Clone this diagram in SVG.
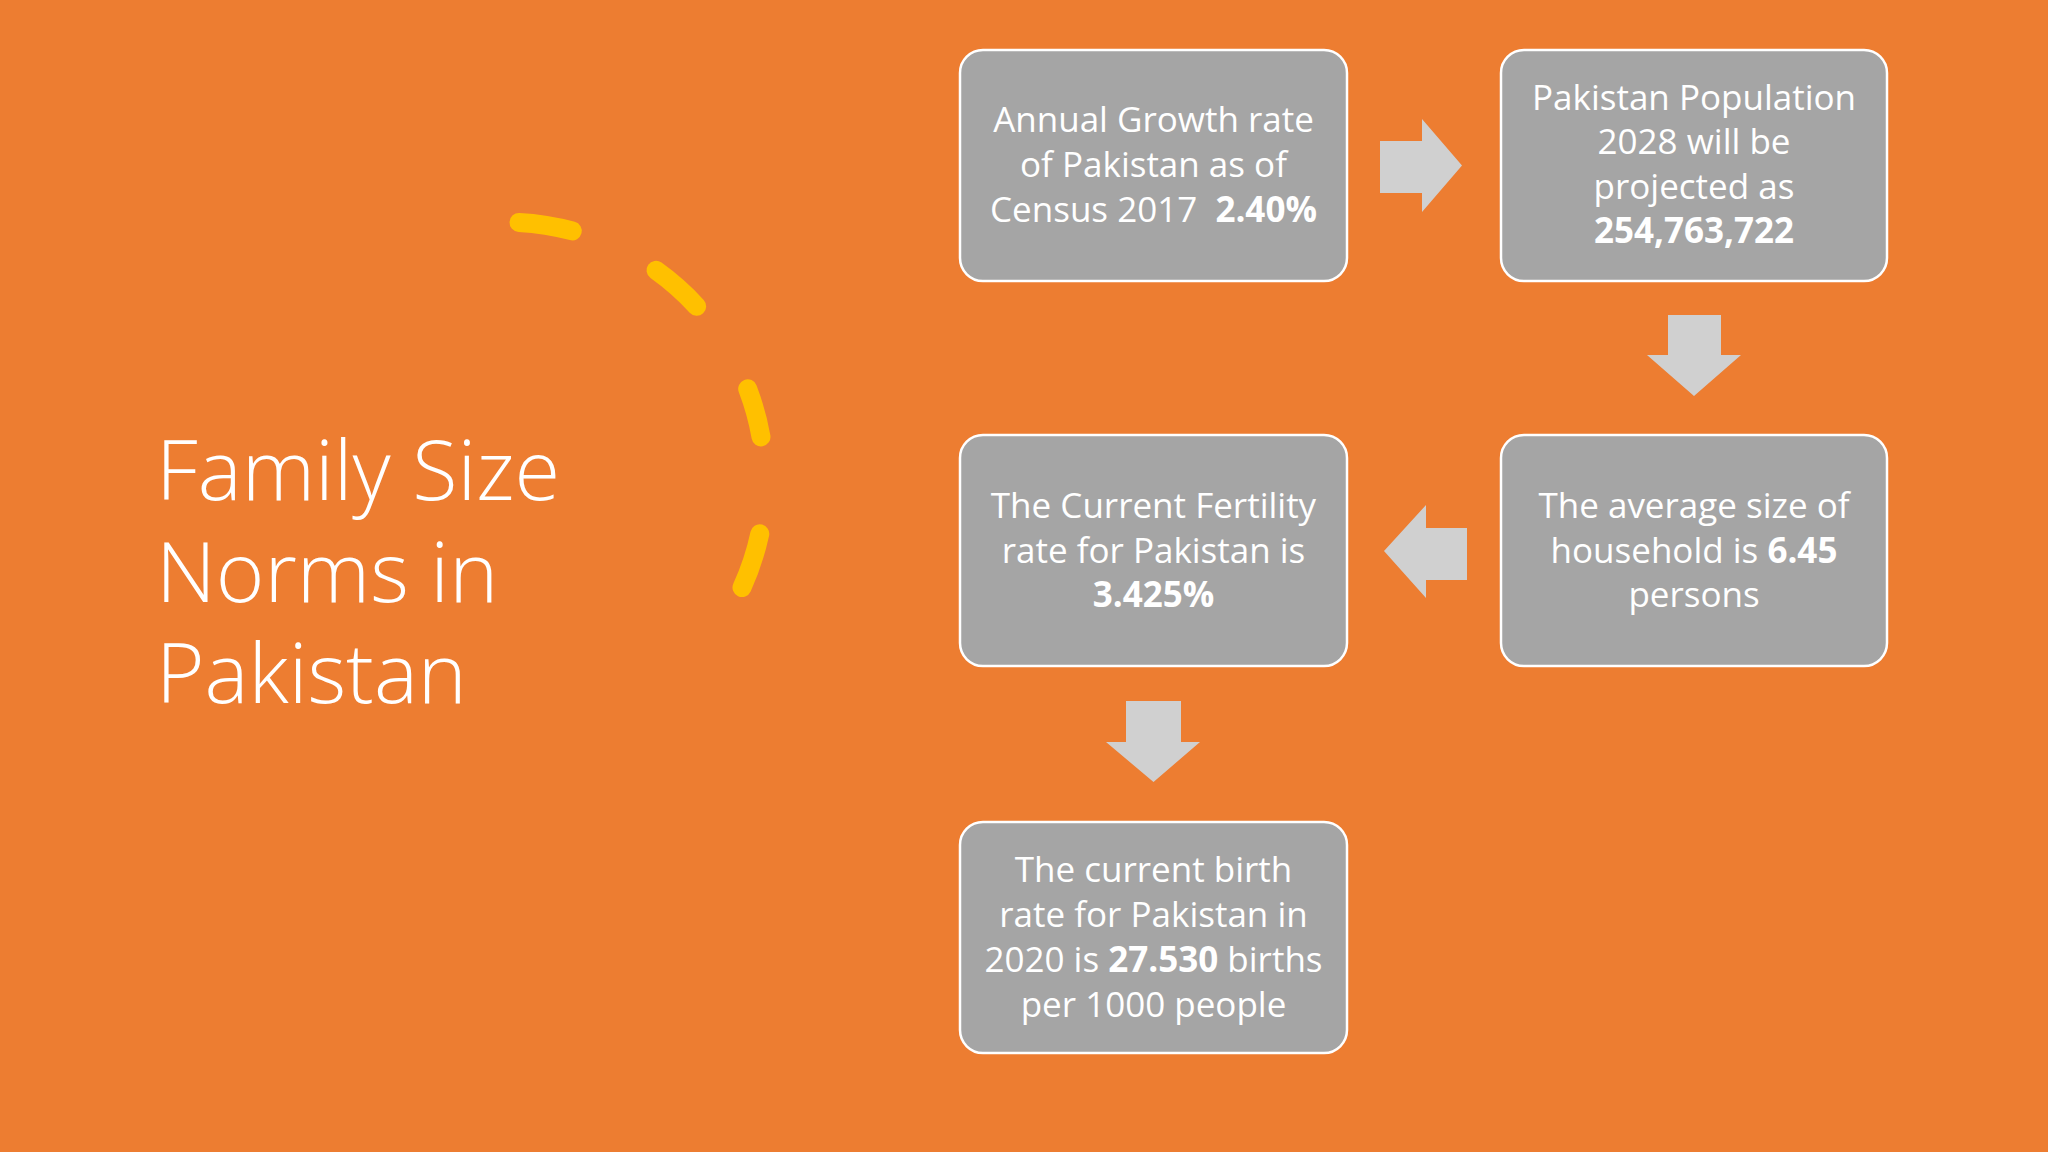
<svg xmlns="http://www.w3.org/2000/svg" width="2048" height="1152" viewBox="0 0 2048 1152">
  <style>
    .box { fill: #A5A5A5; stroke: #FFFFFF; stroke-width: 2.5; }
    .txt { font-family: "Open Sans", "Liberation Sans", sans-serif; font-size: 35px; fill: #FFFFFF; text-anchor: middle; white-space: pre; }
    .b { font-weight: bold; }
    .title { font-family: "Open Sans", "Liberation Sans", sans-serif; font-weight: 300; font-size: 83px; fill: #FFFFFF; }
    .arrow { fill: #D0D0D0; }
    .dash { fill: none; stroke: #FFC000; stroke-width: 19; stroke-linecap: round; }
  </style>
  <rect x="0" y="0" width="2048" height="1152" fill="#ED7D31"/>

  <g id="title">
    <text class="title" x="156" y="500">Family Size</text>
    <text class="title" x="156" y="602">Norms in</text>
    <text class="title" x="156" y="703">Pakistan</text>
  </g>

  <g id="decoration">
    <path class="dash" d="M 519.0 222.4 A 260 260 0 0 1 572.3 230.9"/>
    <path class="dash" d="M 656.0 270.3 A 260 260 0 0 1 696.7 306.3"/>
    <path class="dash" d="M 747.7 388.8 A 260 260 0 0 1 761.0 436.9"/>
    <path class="dash" d="M 759.8 533.8 A 260 260 0 0 1 742.0 587.5"/>
  </g>

  <g id="connectors">
    <polygon class="arrow" points="1380,141 1422,141 1422,119 1462,165.5 1422,212 1422,193 1380,193"/>
    <polygon class="arrow" points="1668,315 1721,315 1721,355 1741,355 1694,396 1647,355 1668,355"/>
    <polygon class="arrow" points="1467,528 1426,528 1426,505 1384,551 1426,598 1426,580 1467,580"/>
    <polygon class="arrow" points="1126,701 1181,701 1181,742 1200,742 1153.5,782 1106,742 1126,742"/>
  </g>

  <g id="node-growth">
    <rect class="box" x="960" y="50" width="387" height="231" rx="23" ry="23"/>
    <text class="txt" x="1153.5" y="132">Annual Growth rate</text>
    <text class="txt" x="1153.5" y="177">of Pakistan as of</text>
    <text class="txt" x="1153.5" y="222">Census 2017  <tspan class="b">2.40%</tspan></text>
  </g>

  <g id="node-population">
    <rect class="box" x="1501" y="50" width="386" height="231" rx="23" ry="23"/>
    <text class="txt" x="1694" y="110">Pakistan Population</text>
    <text class="txt" x="1694" y="154">2028 will be</text>
    <text class="txt" x="1694" y="199">projected as</text>
    <text class="txt b" x="1694" y="243">254,763,722</text>
  </g>

  <g id="node-household">
    <rect class="box" x="1501" y="435" width="386" height="231" rx="23" ry="23"/>
    <text class="txt" x="1694" y="518">The average size of</text>
    <text class="txt" x="1694" y="563">household is <tspan class="b">6.45</tspan></text>
    <text class="txt" x="1694" y="607">persons</text>
  </g>

  <g id="node-fertility">
    <rect class="box" x="960" y="435" width="387" height="231" rx="23" ry="23"/>
    <text class="txt" x="1153.5" y="518">The Current Fertility</text>
    <text class="txt" x="1153.5" y="563">rate for Pakistan is</text>
    <text class="txt b" x="1153.5" y="607">3.425%</text>
  </g>

  <g id="node-birth">
    <rect class="box" x="960" y="822" width="387" height="231" rx="23" ry="23"/>
    <text class="txt" x="1153.5" y="882">The current birth</text>
    <text class="txt" x="1153.5" y="927">rate for Pakistan in</text>
    <text class="txt" x="1153.5" y="972">2020 is <tspan class="b">27.530</tspan> births</text>
    <text class="txt" x="1153.5" y="1017">per 1000 people</text>
  </g>
</svg>
